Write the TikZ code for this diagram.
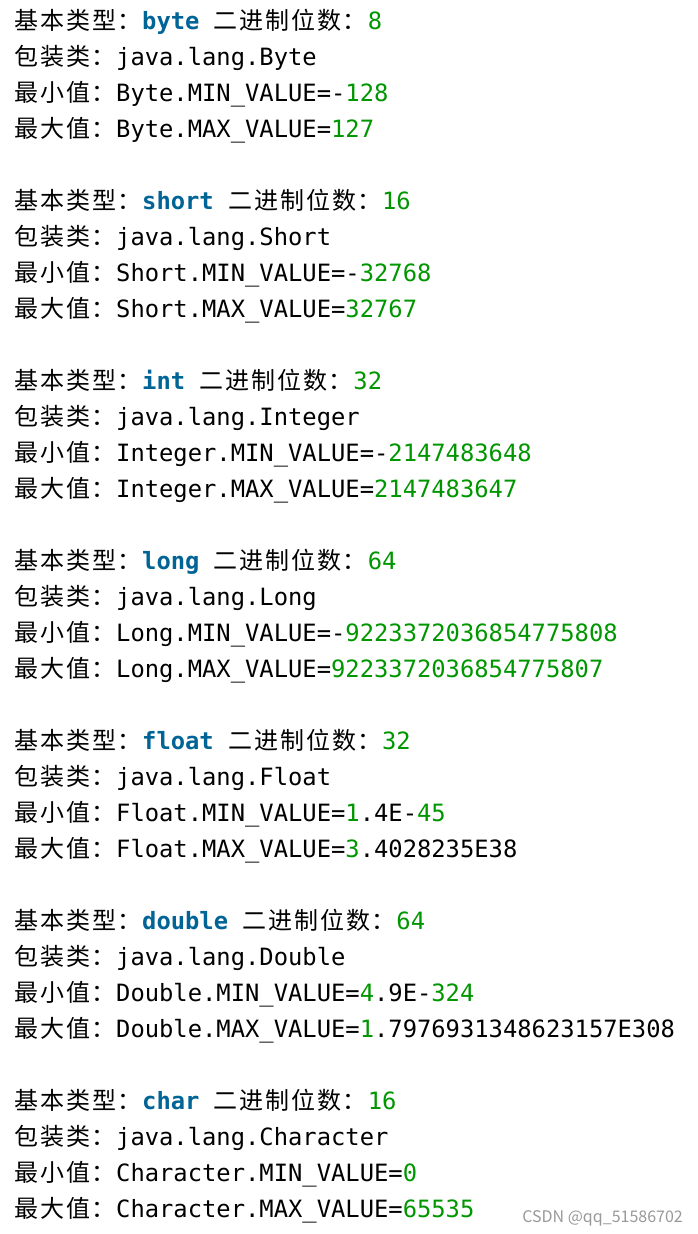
\documentclass[tikz,border=0pt]{standalone}
\usepackage{fontspec}
\setmonofont{DejaVu Sans Mono}
\newfontfamily\cjk{Noto Sans CJK SC}
\newfontfamily\cjkw[LetterSpace=8.3]{Noto Sans CJK SC}
\definecolor{kw}{RGB}{0,100,150}
\definecolor{num}{RGB}{0,150,0}
\newcommand{\G}[1]{\textcolor{num}{#1}}
\newcommand{\K}[1]{\textcolor{kw}{\bfseries #1}}
\newcommand{\C}[1]{{\cjkw\fontsize{24}{24}\selectfont #1}}
\newcommand{\CO}{{\cjk\fontsize{24}{24}\selectfont\makebox[26pt][c]{：}}}
\begin{document}
\begin{tikzpicture}[x=1pt,y=-1pt,
  ln/.style={anchor=base west,inner sep=0pt,font=\ttfamily\fontsize{23.8}{24}\selectfont}]
\useasboundingbox (0,0) rectangle (697,1234);
\fill[white] (0,0) rectangle (697,1234);
\newcommand{\grp}[6]{%
 \node[ln] (a#1) at (14,#2+29) {\C{基本类型}\CO\K{#3} \C{二进制位数}\CO\G{#4}};
 \node[ln] (b#1) at (14,#2+65) {\C{包装类}\CO java.lang.#5};
 \node[ln] (c#1) at (14,#2+101) {\C{最小值}\CO #6};
}
\grp{1}{0}{byte}{8}{Byte}{Byte.MIN\_VALUE=-\G{128}}
\node[ln] at (14,137) {\C{最大值}\CO Byte.MAX\_VALUE=\G{127}};
\grp{2}{180}{short}{16}{Short}{Short.MIN\_VALUE=-\G{32768}}
\node[ln] at (14,317) {\C{最大值}\CO Short.MAX\_VALUE=\G{32767}};
\grp{3}{360}{int}{32}{Integer}{Integer.MIN\_VALUE=-\G{2147483648}}
\node[ln] at (14,497) {\C{最大值}\CO Integer.MAX\_VALUE=\G{2147483647}};
\grp{4}{540}{long}{64}{Long}{Long.MIN\_VALUE=-\G{9223372036854775808}}
\node[ln] at (14,677) {\C{最大值}\CO Long.MAX\_VALUE=\G{9223372036854775807}};
\grp{5}{720}{float}{32}{Float}{Float.MIN\_VALUE=\G{1}.4E-\G{45}}
\node[ln] at (14,857) {\C{最大值}\CO Float.MAX\_VALUE=\G{3}.4028235E38};
\grp{6}{900}{double}{64}{Double}{Double.MIN\_VALUE=\G{4}.9E-\G{324}}
\node[ln] at (14,1037) {\C{最大值}\CO Double.MAX\_VALUE=\G{1}.7976931348623157E308};
\grp{7}{1080}{char}{16}{Character}{Character.MIN\_VALUE=\G{0}}
\node[ln] at (14,1217) {\C{最大值}\CO Character.MAX\_VALUE=\G{65535}};
\node[anchor=base east,inner sep=0pt,text=gray!80,font=\fontsize{16}{16}\selectfont] (wm) at (683,1222) {\cjk CSDN @qq\_51586702};
\end{tikzpicture}
\end{document}
